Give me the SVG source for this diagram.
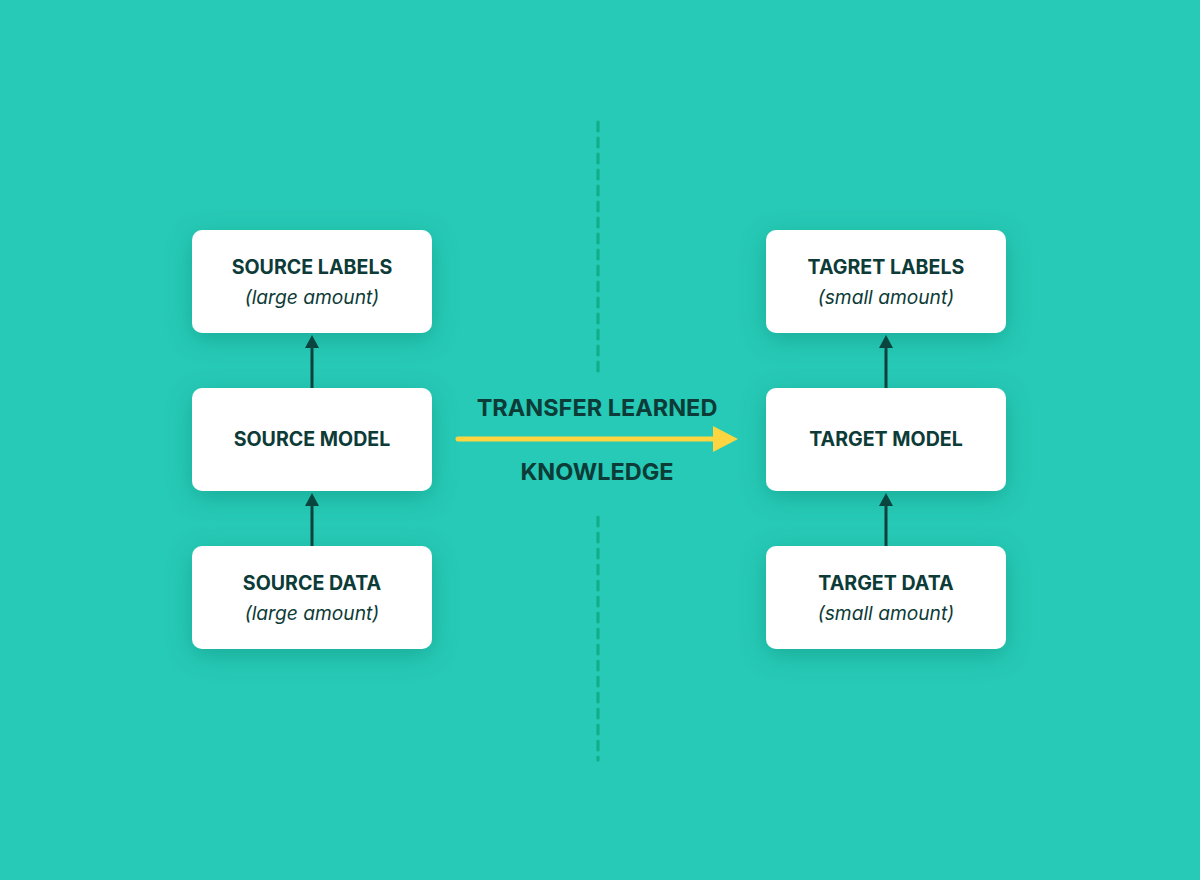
<svg xmlns="http://www.w3.org/2000/svg" width="1200" height="880" viewBox="0 0 1200 880">
<defs>
<style>
.box{fill:#ffffff;filter:url(#sh)}
.t{font-family:Inter,"Liberation Sans",sans-serif;font-weight:700;font-size:19.6px;fill:#0d3b37;text-anchor:middle}
.s{font-family:Inter,"Liberation Sans",sans-serif;font-style:italic;font-size:19.2px;fill:#0d3b37;text-anchor:middle}
.big{font-family:Inter,"Liberation Sans",sans-serif;font-weight:700;font-size:23.5px;fill:#0d3b37;text-anchor:middle}
.up{stroke:#0c3f3b;stroke-width:3;fill:none}
.dash{stroke:#10ae8d;stroke-width:3.2;stroke-dasharray:9 7;stroke-linecap:round;fill:none}
</style>
<filter id="sh" x="-30%" y="-40%" width="160%" height="180%">
<feDropShadow dx="0" dy="6" stdDeviation="12" flood-color="#0b6e60" flood-opacity="0.35"/>
</filter>
</defs>
<rect width="1200" height="880" fill="#26cab6"/>
<g id="divider">
<line class="dash" x1="598" y1="122" x2="598" y2="378"/>
<line class="dash" x1="598" y1="517" x2="598" y2="760"/>
</g>
<g id="connectors">
<line class="up" x1="312" y1="388" x2="312" y2="346"/>
<polygon points="312,335 305,348 319,348" fill="#0c3f3b"/>
<line class="up" x1="312" y1="546" x2="312" y2="504"/>
<polygon points="312,493 305,506 319,506" fill="#0c3f3b"/>
<line class="up" x1="886" y1="388" x2="886" y2="346"/>
<polygon points="886,335 879,348 893,348" fill="#0c3f3b"/>
<line class="up" x1="886" y1="546" x2="886" y2="504"/>
<polygon points="886,493 879,506 893,506" fill="#0c3f3b"/>
<line x1="458" y1="439" x2="716" y2="439" stroke="#fdd540" stroke-width="5" stroke-linecap="round"/>
<polygon points="713,426 738,439 713,452" fill="#fdd540"/>
</g>
<g id="transfer-label">
<text class="big" x="597" y="416">TRANSFER LEARNED</text>
<text class="big" x="597" y="480">KNOWLEDGE</text>
</g>
<g id="source-labels">
<rect class="box" x="192" y="230" width="240" height="103" rx="10"/>
<text class="t" x="312" y="274">SOURCE LABELS</text>
<text class="s" x="312" y="304">(large amount)</text>
</g>
<g id="source-model">
<rect class="box" x="192" y="388" width="240" height="103" rx="10"/>
<text class="t" x="312" y="446">SOURCE MODEL</text>
</g>
<g id="source-data">
<rect class="box" x="192" y="546" width="240" height="103" rx="10"/>
<text class="t" x="312" y="590">SOURCE DATA</text>
<text class="s" x="312" y="620">(large amount)</text>
</g>
<g id="target-labels">
<rect class="box" x="766" y="230" width="240" height="103" rx="10"/>
<text class="t" x="886" y="274">TAGRET LABELS</text>
<text class="s" x="886" y="304">(small amount)</text>
</g>
<g id="target-model">
<rect class="box" x="766" y="388" width="240" height="103" rx="10"/>
<text class="t" x="886" y="446">TARGET MODEL</text>
</g>
<g id="target-data">
<rect class="box" x="766" y="546" width="240" height="103" rx="10"/>
<text class="t" x="886" y="590">TARGET DATA</text>
<text class="s" x="886" y="620">(small amount)</text>
</g>
</svg>
